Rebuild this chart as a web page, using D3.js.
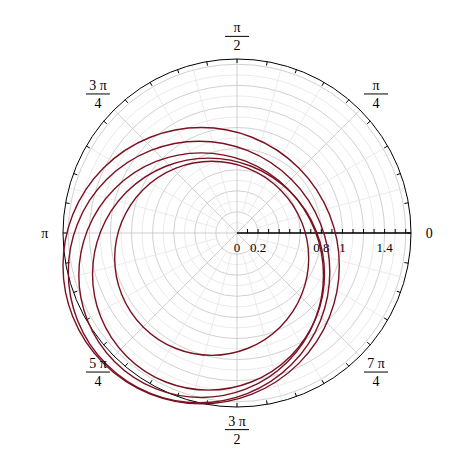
<!DOCTYPE html><html><head><script src="https://cdn.jsdelivr.net/npm/d3@7"></script>
<style>body{margin:0;background:#fff}</style></head><body><svg id="c" width="474" height="474"></svg><script>
const rMax = 1.65;
const radialTicks = [0,0.2,0.8,1,1.4];
const radialTickLabels = ["0","0.2","0.8","1","1.4"];
// loops approximated as circles: centre x, centre y, radius (data units)
const loopCx = [-0.34,-0.36,-0.34,-0.27,-0.24];
const loopCy = [-0.31,-0.37,-0.40,-0.39,-0.24];
const loopR  = [1.31,1.24,1.16,1.10,0.92];
const angleLabels = [["0",null],["π","4"],["π","2"],["3 π","4"],["π",null],["5 π","4"],["3 π","2"],["7 π","4"]];
const labelDist = [1.105,1.13,1.13,1.13,1.105,1.13,1.13,1.13];

const cx=237, cy=233, R=174;
const svg=d3.select("#c");
const r=d3.scaleLinear().domain([0,rMax]).range([0,R]);
const g=svg.append("g").attr("transform",`translate(${cx},${cy})`);
// minor rings
g.selectAll(".mr").data(d3.range(0.1,rMax,0.1)).join("circle").attr("r",d=>r(d)).attr("fill","none")
 .attr("stroke",(d,i)=>i%2? "#c4c4c4":"#e4e4e4").attr("stroke-width",0.8);
// spokes
g.selectAll(".sp").data(d3.range(0,360,15)).join("line")
 .attr("x1",d=>r(d%45?0.2:0)*Math.cos(d*Math.PI/180)).attr("y1",d=>-r(d%45?0.2:0)*Math.sin(d*Math.PI/180))
 .attr("x2",d=>R*Math.cos(d*Math.PI/180)).attr("y2",d=>-R*Math.sin(d*Math.PI/180))
 .attr("stroke",d=>d%45?"#e4e4e4":"#c4c4c4").attr("stroke-width",0.8);
g.append("circle").attr("r",R).attr("fill","none").attr("stroke","#000").attr("stroke-width",1);
// outer ticks
g.selectAll(".ot").data(d3.range(0,360,10)).join("line")
 .attr("x1",d=>R*Math.cos(d*Math.PI/180)).attr("y1",d=>-R*Math.sin(d*Math.PI/180))
 .attr("x2",d=>(R-4)*Math.cos(d*Math.PI/180)).attr("y2",d=>-(R-4)*Math.sin(d*Math.PI/180))
 .attr("stroke","#000");
// radial axis
g.append("line").attr("x1",0).attr("x2",R).attr("stroke","#000").attr("stroke-width",1.5);
g.selectAll(".rt").data(d3.range(0.1,rMax,0.1)).join("line").attr("x1",d=>r(d)).attr("x2",d=>r(d))
 .attr("y1",0).attr("y2",-4).attr("stroke","#000");
g.selectAll(".rl").data(radialTicks).join("text").attr("x",d=>r(d)).attr("y",19).attr("text-anchor","middle")
 .attr("font-family","Liberation Serif").attr("font-size",13).text((d,i)=>radialTickLabels[i]);
// loops
g.selectAll(".lp").data(loopR).join("circle").attr("cx",(d,i)=>r(loopCx[i])).attr("cy",(d,i)=>-r(loopCy[i]))
 .attr("r",d=>r(d)).attr("fill","none").attr("stroke","#7a1020").attr("stroke-width",1.4);
// angle labels
angleLabels.forEach((l,i)=>{
  const a=i*Math.PI/4, d=r(rMax*labelDist[i]);
  const x=d*Math.cos(a), y=-d*Math.sin(a);
  const t=g.append("g").attr("transform",`translate(${x},${y})`).attr("font-family","Liberation Serif").attr("font-size",14).attr("text-anchor","middle");
  if(l[1]===null){ t.append("text").attr("y",5).text(l[0]); }
  else { t.append("text").attr("y",-4).text(l[0]);
    t.append("line").attr("x1",-12).attr("x2",12).attr("stroke","#000");
    t.append("text").attr("y",14).text(l[1]); }
});
</script></body></html>
